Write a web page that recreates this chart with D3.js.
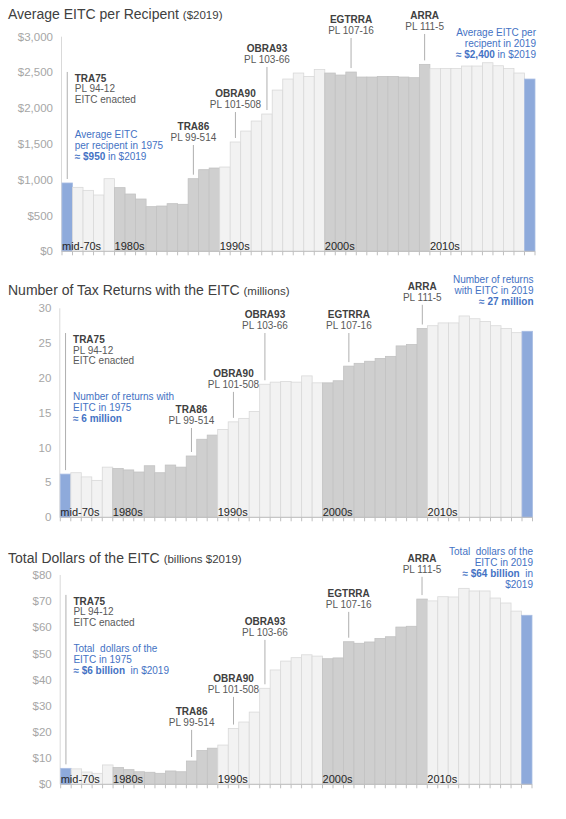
<!DOCTYPE html>
<html>
<head>
  <title>EITC over time</title>
  <script src="https://d3js.org/d3.v7.min.js"></script>
  <style>
    body { margin: 0; background: #fff; }
    svg { display: block; font-family: "Liberation Sans", Arial, sans-serif; }
  </style>
</head>
<body>
  <div id="chart"></div>
  <script>
    // years 1975 - 2019
    const years = [1975, 1976, 1977, 1978, 1979, 1980, 1981, 1982, 1983, 1984,
      1985, 1986, 1987, 1988, 1989, 1990, 1991, 1992, 1993, 1994,
      1995, 1996, 1997, 1998, 1999, 2000, 2001, 2002, 2003, 2004,
      2005, 2006, 2007, 2008, 2009, 2010, 2011, 2012, 2013, 2014,
      2015, 2016, 2017, 2018, 2019];

    // average EITC per recipient ($2019)
    const avgPerRecipient = [955, 894, 852, 787, 1015, 890, 801, 731, 624, 633,
      666, 657, 1015, 1141, 1164, 1178, 1528, 1681, 1821, 1919,
      2254, 2408, 2492, 2445, 2543, 2492, 2464, 2506, 2436, 2436,
      2445, 2445, 2436, 2427, 2613, 2552, 2557, 2557, 2590, 2590,
      2636, 2594, 2557, 2492, 2408];

    // number of returns with the EITC (millions)
    const numReturns = [6.2, 6.4, 5.8, 5.3, 7.2, 7.0, 6.8, 6.5, 7.4, 6.4,
      7.5, 7.2, 8.8, 11.2, 11.8, 12.6, 13.7, 14.2, 15.2, 19.1,
      19.4, 19.5, 19.4, 20.3, 19.3, 19.3, 19.6, 21.7, 22.1, 22.4,
      22.8, 23.1, 24.6, 24.8, 27.1, 27.5, 27.9, 27.9, 28.9, 28.5,
      28.1, 27.5, 27.1, 26.5, 26.7];

    // total dollars of the EITC (billions $2019)
    const totalDollars = [6.1, 5.9, 4.7, 4.2, 7.4, 6.4, 5.6, 4.8, 4.6, 4.2,
      5.1, 4.8, 8.9, 12.9, 13.8, 15.0, 21.3, 23.8, 27.6, 36.7,
      43.7, 47.1, 48.4, 49.5, 49.0, 48.0, 48.3, 54.5, 53.9, 54.4,
      55.7, 56.4, 60.1, 60.4, 70.8, 70.1, 71.7, 71.6, 74.9, 73.9,
      73.9, 71.2, 69.3, 66.2, 64.6];

    const decadeLabels = [
      { year: 1975, text: "mid-70s" },
      { year: 1980, text: "1980s" },
      { year: 1990, text: "1990s" },
      { year: 2000, text: "2000s" },
      { year: 2010, text: "2010s" }
    ];

    const laws = [
      { year: 1975, name: "TRA75", pl: "PL 94-12", extra: "EITC enacted" },
      { year: 1987, name: "TRA86", pl: "PL 99-514" },
      { year: 1991, name: "OBRA90", pl: "PL 101-508" },
      { year: 1994, name: "OBRA93", pl: "PL 103-66" },
      { year: 2002, name: "EGTRRA", pl: "PL 107-16" },
      { year: 2009, name: "ARRA", pl: "PL 111-5" }
    ];

    const panels = [
      {
        title: "Average EITC per Recipent", unit: "($2019)",
        values: avgPerRecipient, max: 3000, step: 500,
        fmt: d => "$" + d3.format(",")(d),
        y0: 251.3, yTop: 36.7, x0: 62, x1: 535, titleY: 19,
        lineTops: [2507, 1486, 1947, 2577, 2982, 3038],
        leftNote: { at: 1584, lines: [[["Average EITC", false]], [["per recipent in 1975", false]], [["\u2248 $950", true], [" in $2019", false]]] },
        rightNote: { at: 3015, lines: [[["Average EITC per", false]], [["recipent in 2019", false]], [["\u2248 $2,400", true], [" in $2019", false]]] }
      },
      {
        title: "Number of Tax Returns with the EITC", unit: "(millions)",
        values: numReturns, max: 30, step: 5,
        fmt: d => d,
        y0: 517.3, yTop: 308.3, x0: 60.3, x1: 532.5, titleY: 295,
        lineTops: [26.45, 12.82, 18.0, 26.45, 26.45, 30.5],
        leftNote: { at: 16.8, lines: [[["Number of returns with", false]], [["EITC in 1975", false]], [["\u2248 6 million", true]]] },
        rightNote: { at: 33.6, lines: [[["Number of returns", false]], [["with EITC in 2019", false]], [["\u2248 27 million", true]]] }
      },
      {
        title: "Total Dollars of the EITC", unit: "(billions $2019)",
        values: totalDollars, max: 80, step: 10,
        fmt: d => "$" + d,
        y0: 784.3, yTop: 575, x0: 60.7, x1: 532, titleY: 563,
        lineTops: [72.4, 20.8, 33.4, 55.2, 65.9, 79.3],
        leftNote: { at: 50.6, lines: [[["Total  dollars of the", false]], [["EITC in 1975", false]], [["\u2248 $6 billion", true], ["  in $2019", false]]] },
        rightNote: { at: 87.7, lines: [[["Total  dollars of the", false]], [["EITC in 2019", false]], [["\u2248 $64 billion", true], ["  in", false]], [["$2019", false]]] }
      }
    ];

    const W = 566, H = 819;
    const blue = "#8eaadb", light = "#f2f2f2", dark = "#cfcfcf";
    const noteBlue = "#4472c4";

    function barColor(y) {
      if (y === 1975 || y === 2019) return blue;
      if ((y >= 1980 && y < 1990) || (y >= 2000 && y < 2010)) return dark;
      return light;
    }

    const svg = d3.select("#chart").append("svg")
      .attr("width", W)
      .attr("height", H);

    panels.forEach(function(p) {
      const x = d3.scaleBand().domain(years).range([p.x0, p.x1]).padding(0);
      const y = d3.scaleLinear().domain([0, p.max]).range([p.y0, p.yTop]);
      const g = svg.append("g");

      // title
      const t = g.append("text")
        .attr("x", 8)
        .attr("y", p.titleY)
        .attr("fill", "#404040")
        .style("font-size", "14px");
      t.append("tspan").text(p.title + " ");
      t.append("tspan").style("font-size", "11.5px").text(p.unit);

      // y axis
      const ticks = d3.range(0, p.max + p.step / 2, p.step);
      g.append("line")
        .attr("x1", p.x0 - 0.5).attr("x2", p.x0 - 0.5)
        .attr("y1", y(0)).attr("y2", y(p.max))
        .attr("stroke", "#d9d9d9");
      g.selectAll(".ytick")
        .data(ticks)
        .enter()
        .append("text")
        .attr("x", p.x0 - 9)
        .attr("y", d => y(d))
        .attr("dy", "0.35em")
        .attr("text-anchor", "end")
        .attr("fill", "#a6a6a6")
        .style("font-size", "11.5px")
        .text(p.fmt);

      // bars
      g.selectAll(".bar")
        .data(years)
        .enter()
        .append("rect")
        .attr("x", d => x(d))
        .attr("y", (d, i) => y(p.values[i]))
        .attr("width", x.bandwidth())
        .attr("height", (d, i) => y(0) - y(p.values[i]))
        .attr("fill", d => barColor(d))
        .attr("stroke", d => barColor(d) === blue ? "#a9bde3" : (barColor(d) === dark ? "#c2c2c2" : "#d9d9d9"))
        .attr("stroke-width", 0.8);

      // x axis line + ticks between bars
      g.append("line")
        .attr("x1", p.x0 - 0.5).attr("x2", p.x1)
        .attr("y1", y(0)).attr("y2", y(0))
        .attr("stroke", "#bfbfbf");
      g.selectAll(".xtick")
        .data(years.concat([null]))
        .enter()
        .append("line")
        .attr("x1", d => d === null ? p.x1 : x(d))
        .attr("x2", d => d === null ? p.x1 : x(d))
        .attr("y1", y(0))
        .attr("y2", y(0) + 4)
        .attr("stroke", "#bfbfbf");

      // decade labels
      g.selectAll(".decade")
        .data(decadeLabels)
        .enter()
        .append("text")
        .attr("x", d => x(d.year))
        .attr("y", y(0) - 1.5)
        .attr("fill", "#262626")
        .style("font-size", "11px")
        .text(d => d.text);

      // law annotations
      laws.forEach(function(a, k) {
        const cx = x(a.year) + x.bandwidth() / 2;
        const barTop = y(p.values[years.indexOf(a.year)]);
        const lt = y(p.lineTops[k]);
        g.append("line")
          .attr("x1", cx).attr("x2", cx)
          .attr("y1", lt).attr("y2", barTop - 4)
          .attr("stroke", "#a6a6a6")
          .attr("stroke-width", 0.9);
        if (a.extra) {
          const tx = cx + 7.5;
          g.append("text").attr("x", tx).attr("y", lt + 10)
            .attr("fill", "#404040").style("font-size", "10px").style("font-weight", "bold").text(a.name);
          g.append("text").attr("x", tx).attr("y", lt + 20.5)
            .attr("fill", "#595959").style("font-size", "10px").text(a.pl);
          g.append("text").attr("x", tx).attr("y", lt + 31)
            .attr("fill", "#595959").style("font-size", "10px").text(a.extra);
        } else {
          g.append("text").attr("x", cx).attr("y", lt - 15)
            .attr("text-anchor", "middle")
            .attr("fill", "#404040").style("font-size", "10px").style("font-weight", "bold").text(a.name);
          g.append("text").attr("x", cx).attr("y", lt - 4)
            .attr("text-anchor", "middle")
            .attr("fill", "#595959").style("font-size", "10px").text(a.pl);
        }
      });

      // blue notes
      function note(n, xPos, anchor) {
        n.lines.forEach(function(parts, i) {
          const tt = g.append("text")
            .attr("x", xPos)
            .attr("y", y(n.at) + i * 11)
            .attr("text-anchor", anchor)
            .attr("fill", noteBlue)
            .style("font-size", "10px")
            .attr("xml:space", "preserve")
            .style("white-space", "pre");
          parts.forEach(function(s) {
            tt.append("tspan").style("font-weight", s[1] ? "bold" : "normal").text(s[0]);
          });
        });
      }
      note(p.leftNote, x(1975) + x.bandwidth() / 2 + 7.5, "start");
      note(p.rightNote, p.x1 + 1, "end");
    });
  </script>
</body>
</html>
